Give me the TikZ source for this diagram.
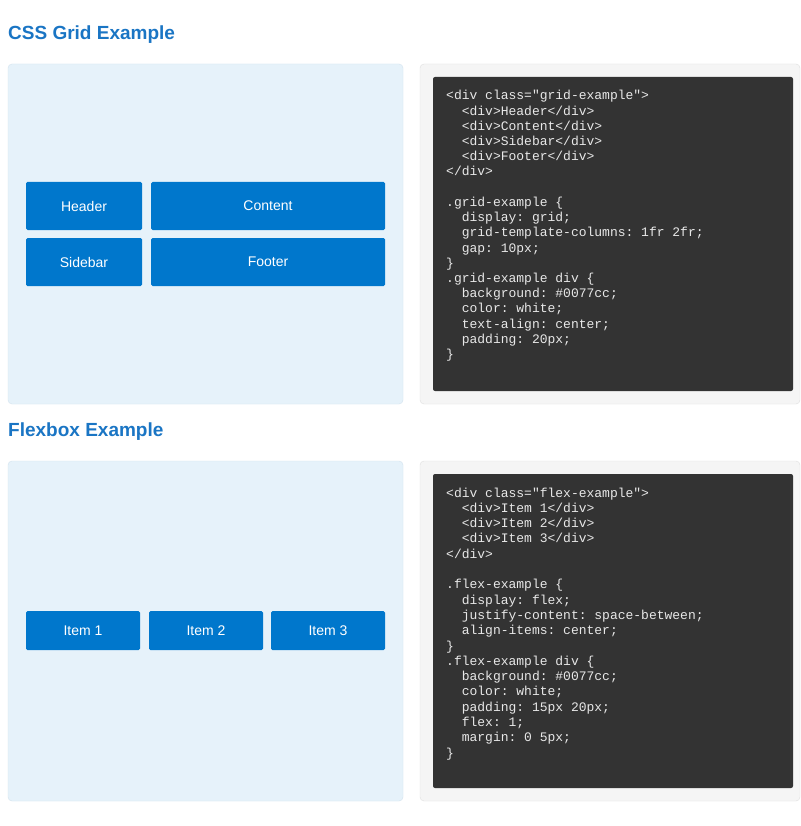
\documentclass[tikz,border=0pt]{standalone}
\usepackage{fontspec}
\setmainfont{Liberation Sans}
\setmonofont{Liberation Mono}
\definecolor{accent}{HTML}{0077CC}
\definecolor{titleblue}{HTML}{1A75C4}
\definecolor{demobg}{HTML}{E6F2FA}
\definecolor{demoline}{HTML}{D3E3EF}
\definecolor{codebg}{HTML}{F5F5F5}
\definecolor{codeline}{HTML}{E0E0E0}
\definecolor{codedark}{HTML}{333333}
\definecolor{codetext}{HTML}{E8E8E8}
\tikzset{
  sectitle/.style={anchor=west, text=titleblue, font=\fontsize{19}{22}\selectfont\bfseries, inner sep=0},
  demopanel/.style={draw=demoline, fill=demobg, rounded corners=4pt},
  codepanel/.style={draw=codeline, fill=codebg, rounded corners=4pt},
  darkbox/.style={fill=codedark, rounded corners=2pt},
  item/.style={fill=accent, text=white, rounded corners=1.5pt, font=\fontsize{14}{16}\selectfont},
  code/.style={anchor=base west, text=codetext, font=\ttfamily\fontsize{13}{15}\selectfont, inner sep=0}
}
\begin{document}
\begin{tikzpicture}[x=1pt, y=-1pt]
    \useasboundingbox[fill=white] (0,0) rectangle (800,826);

    % Grid section
    \node[sectitle] (gridtitle) at (8,35) {CSS Grid Example};
    \draw[demopanel] (8,64) rectangle (403,404);
    \draw[codepanel] (420,64) rectangle (800,404);
    \fill[darkbox] (433,77) rectangle (793,391);
    \path (26,182) rectangle (142,230) node[item, pos=.5, minimum width=116pt, minimum height=48pt] (header) {Header};
    \path (151,182) rectangle (385,230) node[item, pos=.5, minimum width=234pt, minimum height=48pt] (content) {Content};
    \path (26,238) rectangle (142,286) node[item, pos=.5, minimum width=116pt, minimum height=48pt] (sidebar) {Sidebar};
    \path (151,238) rectangle (385,286) node[item, pos=.5, minimum width=234pt, minimum height=48pt] (footer) {Footer};

    \foreach \n/\ind/\txt in {
        0/0/{<div class="grid-example">}, 1/1/{<div>Header</div>}, 2/1/{<div>Content</div>},
        3/1/{<div>Sidebar</div>}, 4/1/{<div>Footer</div>}, 5/0/{</div>},
        7/0/{.grid-example \{}, 8/1/{display: grid;}, 9/1/{grid-template-columns: 1fr 2fr;},
        10/1/{gap: 10px;}, 11/0/{\}}, 12/0/{.grid-example div \{}, 13/1/{background: \#0077cc;},
        14/1/{color: white;}, 15/1/{text-align: center;}, 16/1/{padding: 20px;}, 17/0/{\}}}
        \node[code] (gcode\n) at (446+15.6*\ind, 100+15.2*\n) {\txt};

    % Flexbox section
    \node[sectitle] (flextitle) at (8,432) {Flexbox Example};
    \draw[demopanel] (8,461) rectangle (403,801);
    \draw[codepanel] (420,461) rectangle (800,801);
    \fill[darkbox] (433,474) rectangle (793,788);
    \foreach \x [count=\k] in {26,149,271}
        \path (\x,611) rectangle (\x+114,650) node[item, pos=.5, minimum width=114pt, minimum height=39pt] (item\k) {Item \k};

    \foreach \n/\ind/\txt in {
        0/0/{<div class="flex-example">}, 1/1/{<div>Item 1</div>}, 2/1/{<div>Item 2</div>},
        3/1/{<div>Item 3</div>}, 4/0/{</div>},
        6/0/{.flex-example \{}, 7/1/{display: flex;}, 8/1/{justify-content: space-between;},
        9/1/{align-items: center;}, 10/0/{\}}, 11/0/{.flex-example div \{}, 12/1/{background: \#0077cc;},
        13/1/{color: white;}, 14/1/{padding: 15px 20px;}, 15/1/{flex: 1;}, 16/1/{margin: 0 5px;}, 17/0/{\}}}
        \node[code] (fcode\n) at (446+15.6*\ind, 497+15.3*\n) {\txt};
\end{tikzpicture}
\end{document}
